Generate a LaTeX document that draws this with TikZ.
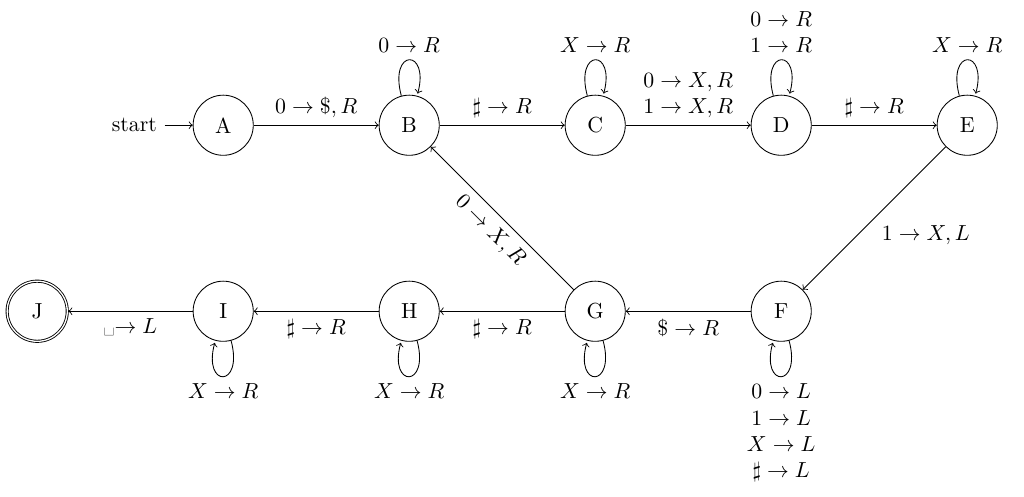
\documentclass[tikz,border=0pt]{standalone}
\usetikzlibrary{automata,positioning}
\begin{document}
\begin{tikzpicture}[->,auto,
  every state/.style={draw,circle,minimum size=0.97cm,inner sep=0pt},
  lbl/.style={align=center}]
\useasboundingbox (0,0) rectangle (16.516,-8);
\node[state,initial,initial text=start] (A) at (3.6,-2.02) {A};
\node[state] (B) at (6.6,-2.02) {B};
\node[state] (C) at (9.6,-2.02) {C};
\node[state] (D) at (12.6,-2.02) {D};
\node[state] (E) at (15.6,-2.02) {E};
\node[state] (F) at (12.6,-5.02) {F};
\node[state] (G) at (9.6,-5.02) {G};
\node[state] (H) at (6.6,-5.02) {H};
\node[state] (I) at (3.6,-5.02) {I};
\node[state,accepting] (J) at (0.6,-5.02) {J};
\path
 (A) edge node[lbl] {$0\rightarrow\$,R$} (B)
 (B) edge node[lbl] {$\sharp\rightarrow R$} (C)
 (C) edge node[lbl] {$0\rightarrow X,R$\\$1\rightarrow X,R$} (D)
 (D) edge node[lbl] {$\sharp\rightarrow R$} (E)
 (E) edge node[lbl] {$1\rightarrow X,L$} (F)
 (F) edge node[lbl] {$\$\rightarrow R$} (G)
 (G) edge node[lbl] {$\sharp\rightarrow R$} (H)
 (H) edge node[lbl] {$\sharp\rightarrow R$} (I)
 (I) edge node[lbl] {\textvisiblespace$\rightarrow L$} (J)
 (G) edge node[lbl,sloped,swap] {$0\rightarrow X,R$} (B)
 (B) edge[loop above] node[lbl] {$0\rightarrow R$} (B)
 (C) edge[loop above] node[lbl] {$X\rightarrow R$} (C)
 (D) edge[loop above] node[lbl] {$0\rightarrow R$\\$1\rightarrow R$} (D)
 (E) edge[loop above] node[lbl] {$X\rightarrow R$} (E)
 (F) edge[loop below] node[lbl] {$0\rightarrow L$\\$1\rightarrow L$\\$X\rightarrow L$\\$\sharp\rightarrow L$} (F)
 (G) edge[loop below] node[lbl] {$X\rightarrow R$} (G)
 (H) edge[loop below] node[lbl] {$X\rightarrow R$} (H)
 (I) edge[loop below] node[lbl] {$X\rightarrow R$} (I);
\end{tikzpicture}
\end{document}
